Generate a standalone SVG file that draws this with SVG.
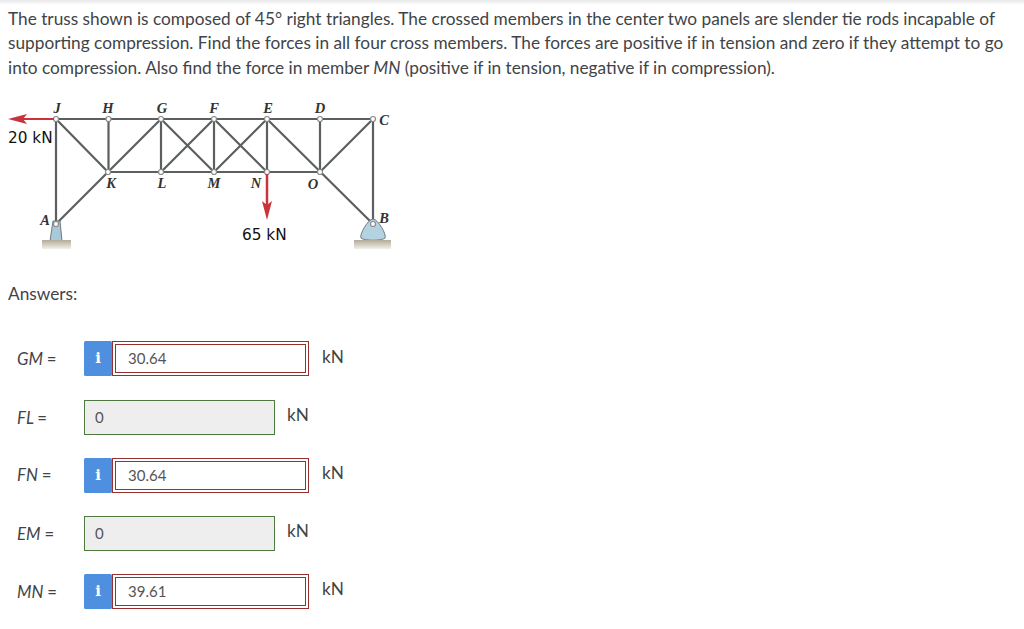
<svg xmlns="http://www.w3.org/2000/svg" width="1024" height="629" viewBox="0 0 1024 629">
<defs>
<linearGradient id="top" x1="0" y1="0" x2="0" y2="1"><stop offset="0" stop-color="#e8e8e8"/><stop offset="1" stop-color="#ffffff"/></linearGradient>
<linearGradient id="ground" x1="0" y1="0" x2="0" y2="1"><stop offset="0" stop-color="#b3ab98"/><stop offset="1" stop-color="#f2f0ea"/></linearGradient>
</defs>
<style>
text{font-family:"Lato","Liberation Sans",sans-serif;fill:#3f4448}
.p{font-size:17.26px}
.lab{font-size:16.8px;font-style:italic}
.u{font-size:17.2px}
.val{font-size:15px;fill:#555}
.t{font-family:"Liberation Serif",serif;font-style:italic;font-weight:bold;font-size:14.5px;fill:#333;text-anchor:middle}
.load{font-family:"DejaVu Sans",sans-serif;font-size:15.3px;fill:#111}
.m{stroke:#5c5f5f;stroke-width:2.2;fill:none;stroke-linecap:round}
.j{fill:#fff;stroke:#8a8c8c;stroke-width:1.2}
.info{fill:#4f8fdf}
.i{font-family:"DejaVu Serif",serif;font-weight:bold;font-size:15px;fill:#fff;text-anchor:middle}
.bad{fill:#fff;stroke:#96312f;stroke-width:1}
.ok{fill:#eeeeee;stroke:#4f7a3f;stroke-width:1}
</style>
<rect width="1024" height="629" fill="#fff"/>
<rect width="1024" height="5" fill="url(#top)"/>
<g id="question">
<text class="p" x="8" y="25">The truss shown is composed of 45° right triangles. The crossed members in the center two panels are slender tie rods incapable of</text>
<text class="p" x="8" y="49">supporting compression. Find the forces in all four cross members. The forces are positive if in tension and zero if they attempt to go</text>
<text class="p" x="8" y="74">into compression. Also find the force in member <tspan font-style="italic">MN</tspan> (positive if in tension, negative if in compression).</text>
</g>
<g id="connectors">
<path class="m" d="M56 119H373M108 172H320M56 119V224M108.500 119V172M161 119V172M214 119V172M267 119V172M320 119V172M373 119V224"/>
<path class="m" d="M56 119L108 172M56 224L161 119M161 119L214 172M161 172L214 119M214 119L267 172M214 172L267 119M267 119L373 224M320 172L373 119"/>
</g>
<g id="support-A">
<path d="M53 221L60 221L62 241L50 241Z" fill="#a9c8d8" stroke="#6f7a80" stroke-width="1"/>
<rect x="42" y="240" width="29" height="9" fill="url(#ground)"/>
</g>
<g id="support-B">
<path d="M373 219C378 219 387 235 385 238C382 241 364 241 361 238C359 235 368 219 373 219Z" fill="#b4d2e0" stroke="#6f7a80" stroke-width="1"/>
<rect x="354" y="240" width="37" height="9" fill="url(#ground)"/>
</g>
<g id="nodes">
<g id="J"><circle class="j" cx="56" cy="119" r="2.500"/><text class="t" x="57" y="113">J</text></g>
<g id="H"><circle class="j" cx="108.500" cy="119" r="2.500"/><text class="t" x="108" y="113">H</text></g>
<g id="G"><circle class="j" cx="161" cy="119" r="2.500"/><text class="t" x="162" y="113">G</text></g>
<g id="F"><circle class="j" cx="214" cy="119" r="2.500"/><text class="t" x="214" y="113">F</text></g>
<g id="E"><circle class="j" cx="267" cy="119" r="2.500"/><text class="t" x="268" y="113">E</text></g>
<g id="D"><circle class="j" cx="320" cy="119" r="2.500"/><text class="t" x="320" y="113">D</text></g>
<g id="C"><circle class="j" cx="373" cy="119" r="2.500"/><text class="t" x="384" y="125">C</text></g>
<g id="K"><circle class="j" cx="108" cy="172" r="2.500"/><text class="t" x="111" y="188">K</text></g>
<g id="L"><circle class="j" cx="161" cy="172" r="2.500"/><text class="t" x="162" y="188">L</text></g>
<g id="M"><circle class="j" cx="214" cy="172" r="2.500"/><text class="t" x="214" y="188">M</text></g>
<g id="N"><circle class="j" cx="267" cy="172" r="2.500"/><text class="t" x="256" y="188">N</text></g>
<g id="O"><circle class="j" cx="320" cy="172" r="2.500"/><text class="t" x="313" y="189">O</text></g>
<g id="A"><circle class="j" cx="56" cy="224" r="2.500"/><text class="t" x="45" y="225">A</text></g>
<g id="B"><circle class="j" cx="373" cy="224" r="2.500"/><text class="t" x="384" y="223">B</text></g>
</g>
<g id="loads">
<path d="M54 119H14" stroke="#c9343c" stroke-width="2"/>
<path d="M8 119L27 114L23 119L27 124Z" fill="#c9343c"/>
<text class="load" x="8" y="143">20 kN</text>
<path d="M267 174V208" stroke="#c9343c" stroke-width="2.500"/>
<path d="M267 220L262 201L267 205L272 201Z" fill="#c9343c"/>
<text class="load" x="242" y="240">65 kN</text>
</g>
<text class="p" x="8" y="300">Answers:</text>
<g id="row-GM">
<text class="lab" x="17" y="365">GM <tspan font-style="normal">=</tspan></text>
<rect class="info" x="84" y="341" width="28" height="35" rx="1.500"/><text class="i" x="98" y="363">i</text>
<rect class="bad" x="112.500" y="341.500" width="196" height="34"/><rect class="bad" x="115.500" y="344.500" width="190" height="28"/>
<text class="val" x="128" y="364">30.64</text><text class="u" x="322" y="363">kN</text>
</g>
<g id="row-FL">
<text class="lab" x="17" y="424">FL <tspan font-style="normal">=</tspan></text>
<rect class="ok" x="84.500" y="400.500" width="190" height="34"/>
<text class="val" x="95" y="423">0</text><text class="u" x="287" y="421">kN</text>
</g>
<g id="row-FN">
<text class="lab" x="17" y="481">FN <tspan font-style="normal">=</tspan></text>
<rect class="info" x="84" y="458" width="28" height="35" rx="1.500"/><text class="i" x="98" y="480">i</text>
<rect class="bad" x="112.500" y="458.500" width="196" height="34"/><rect class="bad" x="115.500" y="461.500" width="190" height="28"/>
<text class="val" x="128" y="481">30.64</text><text class="u" x="322" y="479">kN</text>
</g>
<g id="row-EM">
<text class="lab" x="17" y="540">EM <tspan font-style="normal">=</tspan></text>
<rect class="ok" x="84.500" y="516.500" width="190" height="34"/>
<text class="val" x="95" y="539">0</text><text class="u" x="287" y="537">kN</text>
</g>
<g id="row-MN">
<text class="lab" x="17" y="598">MN <tspan font-style="normal">=</tspan></text>
<rect class="info" x="84" y="574" width="28" height="35" rx="1.500"/><text class="i" x="98" y="596">i</text>
<rect class="bad" x="112.500" y="574.500" width="196" height="34"/><rect class="bad" x="115.500" y="577.500" width="190" height="28"/>
<text class="val" x="128" y="597">39.61</text><text class="u" x="322" y="595">kN</text>
</g>
</svg>
